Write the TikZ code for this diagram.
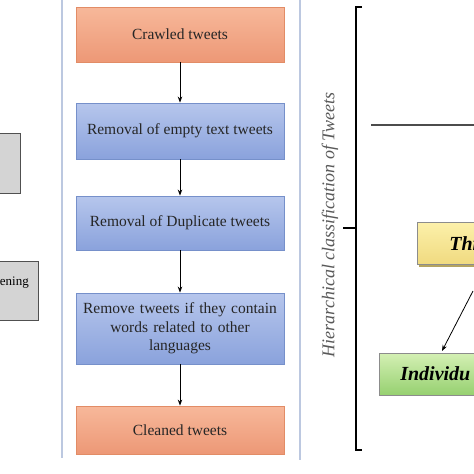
\documentclass[tikz,border=0pt]{standalone}
\usepackage{fontspec}
\setmainfont{Liberation Serif}
\usetikzlibrary{arrows.meta}

% colours of the boxes and lines
\definecolor{sepline}{RGB}{188,200,224}
\definecolor{orangetop}{RGB}{247,184,154}
\definecolor{orangebot}{RGB}{237,152,118}
\definecolor{orangeedge}{RGB}{226,140,102}
\definecolor{bluetop}{RGB}{182,198,236}
\definecolor{bluebot}{RGB}{138,162,220}
\definecolor{blueedge}{RGB}{118,144,202}
\definecolor{grayfill}{RGB}{212,212,212}
\definecolor{grayedge}{RGB}{80,80,80}
\definecolor{yellowtop}{RGB}{252,240,170}
\definecolor{yellowbot}{RGB}{240,218,128}
\definecolor{greentop}{RGB}{212,240,180}
\definecolor{greenbot}{RGB}{150,208,112}

\tikzset{
  tweetbox/.style={draw=orangeedge, line width=0.8pt, top color=orangetop, bottom color=orangebot,
    minimum width=208pt, align=center, text=black!85, font=\fontsize{15.5}{18.5}\selectfont},
  filterbox/.style={tweetbox, draw=blueedge, top color=bluetop, bottom color=bluebot},
  graybox/.style={draw=grayedge, line width=0.8pt, fill=grayfill},
  classbox/.style={draw=black!45, line width=0.6pt, minimum height=42pt, text width=110pt,
    align=left, font=\fontsize{20}{24}\selectfont\bfseries\itshape},
  flowarrow/.style={-{Stealth[length=6pt,width=4.5pt]}, line width=1pt}
}

\begin{document}
\begin{tikzpicture}[x=1pt,y=-1pt]
\useasboundingbox (0,0) rectangle (474,474);
% separators
\draw[sepline, line width=1.5pt] (62,0) -- (62,458);
\draw[sepline, line width=1.5pt] (300,0) -- (300,460);
% left column, cut off
\node[graybox, anchor=east, minimum width=100pt, minimum height=60pt] (prepone) at (21,163) {};
\node[graybox, anchor=east, minimum width=100pt, minimum height=59pt] (preptwo) at (39,290.5) {};
\node[anchor=east, inner sep=0pt, font=\fontsize{13}{16}\selectfont] (preptext) at (29,283) {ening};
% cleaning steps
\node[tweetbox, minimum height=55pt] (crawled) at (180,34.5) {Crawled tweets};
\node[filterbox, minimum height=56pt] (empty) at (180,131) {Removal of empty text tweets};
\node[filterbox, minimum height=54pt] (dupl) at (180,223) {Removal of Duplicate tweets};
\node[filterbox, minimum height=71pt, text width=204pt, inner xsep=2pt] (lang) at (180,328.5)
  {Remove tweets if they contain\\ words related to other\\ languages};
\node[tweetbox, minimum height=48pt] (cleaned) at (180,430) {Cleaned tweets};
\draw[flowarrow] (crawled) -- (empty);
\draw[flowarrow] (empty) -- (dupl);
\draw[flowarrow] (dupl) -- (lang);
\draw[flowarrow] (lang) -- (cleaned);
% right column title
\node[rotate=90, text=black!65, font=\fontsize{18}{21}\selectfont\itshape] (hiertitle) at (330,225)
  {Hierarchical classification of Tweets};
% bracket
\draw[line width=1.2pt] (362,7) -- (356,7) -- (356,450) -- (362,450);
\draw[line width=1.2pt] (343,228) -- (356,228);
\draw[black!70, line width=1.6pt] (371,125) -- (474,125);
% classes
\fill[yellowbot!75!black] (419,226) rectangle (500,267);
\node[classbox, anchor=west, top color=yellowtop, bottom color=yellowbot, inner xsep=32pt] (threat) at (417,243.5) {Thr};
\fill[greenbot!75!black] (381,356) rectangle (500,396);
\node[classbox, anchor=west, top color=greentop, bottom color=greenbot, inner xsep=21pt] (indiv) at (379,374) {Individu};
\coordinate (threatfoot) at (473,291);
\coordinate (indivtop) at (442,351);
\draw[flowarrow, line width=0.8pt] (threatfoot) -- (indivtop);
\end{tikzpicture}
\end{document}
